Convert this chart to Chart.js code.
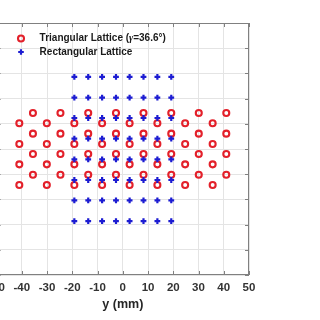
<!DOCTYPE html>
<html>
<head>
<meta charset="utf-8">
<script src="https://cdn.jsdelivr.net/npm/chart.js@4"></script>
<style>
  html, body { margin: 0; padding: 0; background: #fff; overflow: hidden; }
  #wrap { position: relative; width: 320px; height: 320px; overflow: hidden; }
  #latticeChart { position: absolute; left: -70px; top: 0; }
</style>
</head>
<body>
<div id="wrap"><canvas id="latticeChart" width="390" height="320"></canvas></div>
<script>
// Tick labels
const xTicks = [-50, -40, -30, -20, -10, 0, 10, 20, 30, 40, 50];
const yTicks = [-50, -40, -30, -20, -10, 0, 10, 20, 30, 40, 50];

// Triangular lattice: two interleaved row types (mm)
const triColsA = [-35.6, -24.7, -13.7, -2.7, 8.2, 19.2, 30.1, 41.0];
const triRowsA = [14.3, 6.1, -2.0, -10.2];
const triColsB = [-41.0, -30.1, -19.2, -8.2, 2.7, 13.7, 24.7, 35.6];
const triRowsB = [10.2, 2.0, -6.1, -14.3];

// Rectangular lattice (mm)
const rectCols = [-19.2, -13.7, -8.2, -2.7, 2.7, 8.2, 13.7, 19.2];
const rectRows = [28.6, 20.4, 12.3, 4.1, -4.1, -12.3, -20.4, -28.6];

const RED = '#e3202a';
const BLUE = '#1c1cd2';

function gridPoints(cols, rows) {
    const pts = [];
    rows.forEach(y => cols.forEach(x => pts.push({ x, y })));
    return pts;
}

const triPoints = gridPoints(triColsA, triRowsA).concat(gridPoints(triColsB, triRowsB));
const rectPoints = gridPoints(rectCols, rectRows);

// Box around the axes + inward tick marks (MATLAB style)
const boxTicks = {
    id: 'boxTicks',
    afterDatasetsDraw(chart) {
        const { ctx, chartArea: a, scales } = chart;
        ctx.save();
        ctx.strokeStyle = '#808080';
        ctx.lineWidth = 1;
        ctx.strokeRect(a.left + 0.5, a.top + 0.5, a.right - a.left - 1, a.bottom - a.top - 1);
        ctx.beginPath();
        xTicks.forEach(v => {
            const px = Math.round(scales.x.getPixelForValue(v)) + 0.5;
            ctx.moveTo(px, a.top); ctx.lineTo(px, a.top + 4);
            ctx.moveTo(px, a.bottom); ctx.lineTo(px, a.bottom - 4);
        });
        yTicks.forEach(v => {
            const py = Math.round(scales.y.getPixelForValue(v)) + 0.5;
            ctx.moveTo(a.left, py); ctx.lineTo(a.left + 4, py);
            ctx.moveTo(a.right, py); ctx.lineTo(a.right - 4, py);
        });
        ctx.stroke();
        ctx.restore();
    }
};

// Legend inside the plot, top left
const insideLegend = {
    id: 'insideLegend',
    afterDraw(chart) {
        const { ctx, chartArea: a } = chart;
        const mx = a.left + 24.4;
        const tx = a.left + 43;
        const y1 = a.top + 15.5;
        const y2 = a.top + 29;
        ctx.save();

        // circle marker
        ctx.strokeStyle = RED;
        ctx.lineWidth = 2.1;
        ctx.beginPath();
        ctx.arc(mx, y1, 3, 0, Math.PI * 2);
        ctx.stroke();

        // plus marker
        ctx.strokeStyle = BLUE;
        ctx.lineWidth = 2.2;
        ctx.beginPath();
        ctx.moveTo(mx - 2.8, y2); ctx.lineTo(mx + 2.8, y2);
        ctx.moveTo(mx, y2 - 2.8); ctx.lineTo(mx, y2 + 2.8);
        ctx.stroke();

        ctx.fillStyle = '#1a1a1a';
        ctx.textBaseline = 'middle';
        ctx.textAlign = 'left';
        const bold = 'bold 10px "Liberation Sans", Arial, sans-serif';
        const ital = 'italic bold 10px "Liberation Serif", "Times New Roman", serif';
        let x = tx;
        ctx.font = bold;
        ctx.fillText('Triangular Lattice (', x, y1);
        x += ctx.measureText('Triangular Lattice (').width;
        ctx.font = ital;
        ctx.fillText('γ', x, y1);
        x += ctx.measureText('γ').width;
        ctx.font = bold;
        ctx.fillText('=36.6°)', x, y1);
        ctx.fillText('Rectangular Lattice', tx, y2);
        ctx.restore();
    }
};

const ctx = document.getElementById('latticeChart').getContext('2d');
new Chart(ctx, {
    type: 'scatter',
    data: {
        datasets: [{
            label: 'Triangular Lattice (γ=36.6°)',
            data: triPoints,
            pointStyle: 'circle',
            pointRadius: 3,
            pointBorderWidth: 2.1,
            borderColor: RED,
            backgroundColor: 'rgba(0,0,0,0)',
            order: 1
        }, {
            label: 'Rectangular Lattice',
            data: rectPoints,
            pointStyle: 'cross',
            pointRadius: 2.9,
            pointBorderWidth: 2.2,
            borderColor: BLUE,
            backgroundColor: BLUE,
            order: 0
        }]
    },
    options: {
        responsive: false,
        animation: false,
        layout: { padding: { left: 0, right: 71, top: 23, bottom: 0 } },
        plugins: {
            legend: { display: false },
            tooltip: { enabled: false }
        },
        scales: {
            x: {
                type: 'linear',
                min: -50,
                max: 50,
                afterBuildTicks: s => { s.ticks = xTicks.map(v => ({ value: v })); },
                afterFit: s => { s.height = 45; },
                grid: { color: '#e4e4e4', drawTicks: false },
                border: { display: false },
                ticks: {
                    padding: 6,
                    color: '#333333',
                    font: { family: '"Liberation Sans", Arial, sans-serif', size: 11.5, weight: 'bold' }
                },
                title: {
                    display: true,
                    text: 'y (mm)',
                    color: '#262626',
                    padding: { top: 0, bottom: 7.5 },
                    font: { family: '"Liberation Sans", Arial, sans-serif', size: 12.5, weight: 'bold' }
                }
            },
            y: {
                type: 'linear',
                min: -50,
                max: 50,
                afterBuildTicks: s => { s.ticks = yTicks.map(v => ({ value: v })); },
                afterFit: s => { s.width = 66.6; },
                grid: { color: '#e4e4e4', drawTicks: false },
                border: { display: false },
                ticks: {
                    padding: 6,
                    color: '#333333',
                    font: { family: '"Liberation Sans", Arial, sans-serif', size: 11.5, weight: 'bold' }
                },
                title: {
                    display: true,
                    text: 'x (mm)',
                    color: '#262626',
                    font: { family: '"Liberation Sans", Arial, sans-serif', size: 12.5, weight: 'bold' }
                }
            }
        }
    },
    plugins: [boxTicks, insideLegend]
});
</script>
</body>
</html>
